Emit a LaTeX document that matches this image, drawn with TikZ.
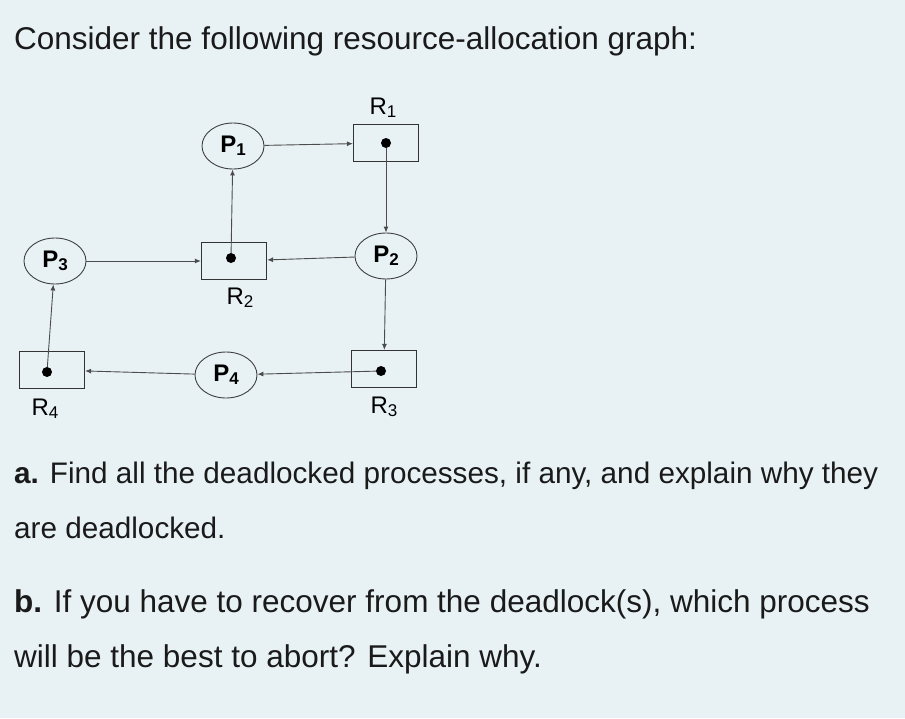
\documentclass[tikz,border=0pt]{standalone}
\usepackage{fontspec}
\setmainfont{Liberation Sans}
\usetikzlibrary{shapes.geometric,arrows.meta}
\definecolor{bg}{HTML}{E8F2F5}
\definecolor{txt}{HTML}{1A1A1A}
\newcommand{\sbs}[1]{\raisebox{-0.25ex}{\fontsize{17}{17}\selectfont #1}}
\begin{document}
\begin{tikzpicture}[x=1pt,y=-1pt,
  proc/.style={ellipse,draw=black!75,line width=0.9pt,minimum width=62pt,minimum height=46pt,inner sep=0pt,font=\fontsize{24}{24}\selectfont\bfseries},
  res/.style={rectangle,draw=black!80,line width=1.2pt,minimum width=65pt,minimum height=37pt,inner sep=0pt},
  dot/.style={circle,fill=black,inner sep=0pt,minimum size=10pt},
  lab/.style={font=\fontsize{24}{24}\selectfont},
  edge/.style={draw=black!70,line width=0.9pt,-{Latex[length=6pt,width=5pt]}},
  para/.style={anchor=base west,font=\fontsize{31.5}{31.5}\selectfont,text=txt,inner sep=0pt},
  paraa/.style={para,font=\fontsize{29.7}{29.7}\selectfont}]
\fill[bg] (0,0) rectangle (905,718);
\useasboundingbox (0,0) rectangle (905,718);
\node[para] (t) at (14,49) {Consider the following resource-allocation graph:};
\node[proc] (P1) at (233,146) {P\sbs{1}};
\node[res] (R1) at (386,143) {};
\node[dot] (d1) at (386,143) {};
\node[proc] (P3) at (55,261) {P\sbs{3}};
\node[res] (R2) at (234,261) {};
\node[dot] (d2) at (231,258) {};
\node[proc] (P2) at (386,256) {P\sbs{2}};
\node[res] (R4) at (52,370) {};
\node[dot] (d4) at (47,372) {};
\node[proc] (P4) at (226,375) {P\sbs{4}};
\node[res] (R3) at (384,369) {};
\node[dot] (d3) at (381,371) {};
\node[lab] (l1) at (383,108) {R\sbs{1}};
\node[lab] (l2) at (240,298) {R\sbs{2}};
\node[lab] (l4) at (45,409) {R\sbs{4}};
\node[lab] (l3) at (384,407) {R\sbs{3}};
\draw[edge] (P1) -- (R1);
\draw[edge] (d1) -- (P2);
\draw[edge] (P2) -- (R2);
\draw[edge] (d2) -- (P1);
\draw[edge] (P3) -- (R2);
\draw[edge] (P2) -- (R3);
\draw[edge] (d3) -- (P4);
\draw[edge] (P4) -- (R4);
\draw[edge] (d4) -- (P3);
\node[paraa] (a1) at (14,483) {\textbf{a.} Find all the deadlocked processes, if any, and explain why they};
\node[paraa] (a2) at (14,538) {are deadlocked.};
\node[para] (b1) at (14,612) {\textbf{b.} If you have to recover from the deadlock(s), which process};
\node[para] (b2) at (14,667) {will be the best to abort? Explain why.};
\end{tikzpicture}
\end{document}
